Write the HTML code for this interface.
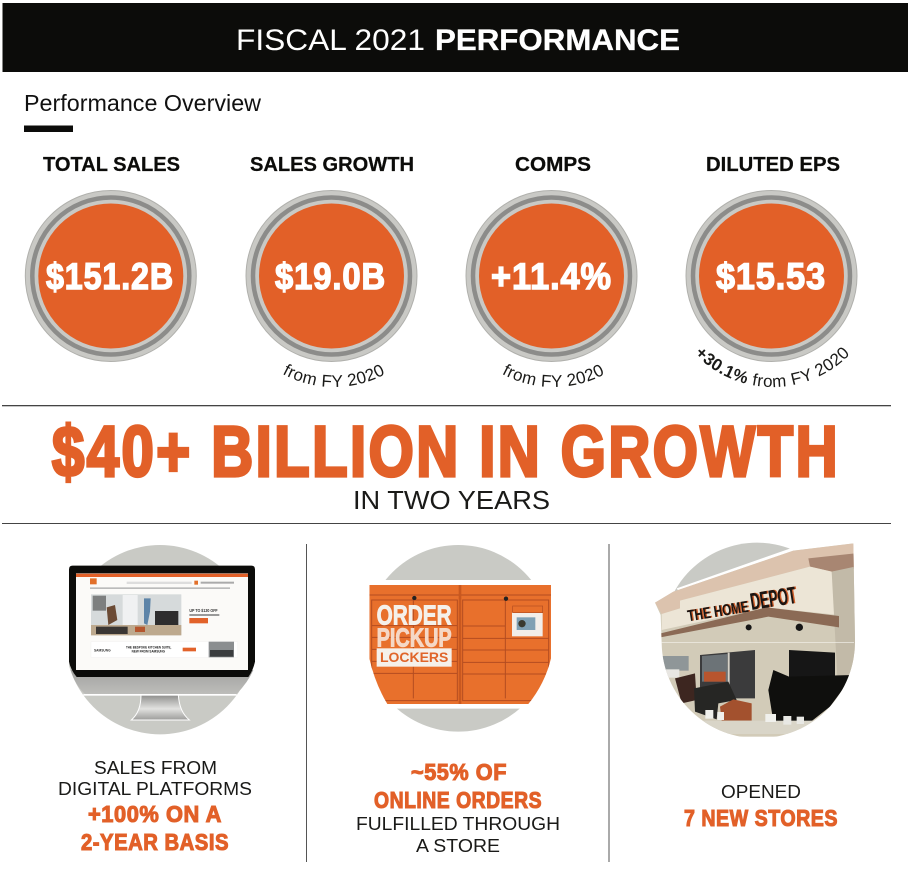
<!DOCTYPE html>
<html lang="en">
<head>
<meta charset="utf-8">
<title>Fiscal 2021 Performance</title>
<style>
html,body{margin:0;padding:0;background:#fff;}
svg{display:block;}
text{font-family:"Liberation Sans",Arial,sans-serif;}
.lab{font-weight:700;font-size:20px;fill:#0c0c0a;stroke:#0c0c0a;stroke-width:.25;}
.val{font-weight:700;font-size:37px;letter-spacing:1px;fill:#fff;stroke:#fff;stroke-width:1.400;}
.cap{font-size:18px;fill:#1a1a18;}
.hl{font-weight:700;font-size:23.5px;letter-spacing:.6px;fill:#e26028;stroke:#e26028;stroke-width:1.100;}
.arc{font-size:17px;letter-spacing:.45px;fill:#1a1a18;}
</style>
</head>
<body>
<svg xmlns="http://www.w3.org/2000/svg" width="908" height="874" viewBox="0 0 908 874">
<defs>
<path id="arc-b" d="M226 279 A108 108 0 0 0 442 279"/>
<path id="arc-c" d="M445.500 279 A108 108 0 0 0 661.500 279"/>
<path id="arc-d" d="M664.500 279 A108 108 0 0 0 880.500 279"/>
<linearGradient id="silver" x1="0" y1="0" x2="0" y2="1"><stop offset="0" stop-color="#a2a2a0"/><stop offset="1" stop-color="#bdbdba"/></linearGradient>
<linearGradient id="stand" x1="0" y1="0" x2="0" y2="1"><stop offset="0" stop-color="#8e8e8c"/><stop offset=".55" stop-color="#e2e2e0"/><stop offset="1" stop-color="#9c9c9a"/></linearGradient>
<clipPath id="monitor-backdrop-clip"><rect x="87" y="0" width="558" height="700"/></clipPath>
<clipPath id="locker-backdrop-clip"><rect x="0" y="0" width="660" height="150"/><rect x="0" y="536" width="660" height="100"/></clipPath>
<clipPath id="locker-clip"><path d="M58 165 L603 165 L603 385 Q585 460 535 522 L112 522 Q75 460 58 385 Z"/></clipPath>
<clipPath id="store-clip"><path d="M45 218 L100 185 L460 62 L640 40 L645 330 A290 290 0 0 1 65 340 L62 255 Z"/></clipPath>
</defs>
<rect width="908" height="874" fill="#fff"/>
<rect x="2.500" y="3" width="905.500" height="69" fill="#0c0c0a"/>
<text x="236" y="50" font-size="30" fill="#fff" textLength="189" lengthAdjust="spacingAndGlyphs">FISCAL 2021</text>
<text x="435" y="50" font-size="30" font-weight="700" fill="#fff" stroke="#fff" stroke-width=".3" textLength="245" lengthAdjust="spacingAndGlyphs">PERFORMANCE</text>
<text x="24" y="111" font-size="23" fill="#111" textLength="237" lengthAdjust="spacingAndGlyphs">Performance Overview</text>
<rect x="24" y="125.500" width="49" height="6.500" fill="#0c0c0a"/>

<text class="lab" x="43" y="171" textLength="137" lengthAdjust="spacingAndGlyphs">TOTAL SALES</text>
<text class="lab" x="250" y="171" textLength="164" lengthAdjust="spacingAndGlyphs">SALES GROWTH</text>
<text class="lab" x="515" y="171" textLength="76" lengthAdjust="spacingAndGlyphs">COMPS</text>
<text class="lab" x="706" y="171" textLength="134" lengthAdjust="spacingAndGlyphs">DILUTED EPS</text>

<g>
<circle cx="110.800" cy="276" r="85.500" fill="#c9c9c5" stroke="#b0b0ac" stroke-width="1"/><circle cx="110.800" cy="276" r="78.500" fill="none" stroke="#8c8c8a" stroke-width="4.500"/><circle cx="110.800" cy="276" r="72.500" fill="#e26028"/>
<text class="val" x="46" y="289" textLength="128" lengthAdjust="spacingAndGlyphs">$151.2B</text>
</g>
<g>
<circle cx="331.500" cy="276" r="85.500" fill="#c9c9c5" stroke="#b0b0ac" stroke-width="1"/><circle cx="331.500" cy="276" r="78.500" fill="none" stroke="#8c8c8a" stroke-width="4.500"/><circle cx="331.500" cy="276" r="72.500" fill="#e26028"/>
<text class="val" x="275" y="289" textLength="111" lengthAdjust="spacingAndGlyphs">$19.0B</text>
</g>
<g>
<circle cx="551.500" cy="276" r="85.500" fill="#c9c9c5" stroke="#b0b0ac" stroke-width="1"/><circle cx="551.500" cy="276" r="78.500" fill="none" stroke="#8c8c8a" stroke-width="4.500"/><circle cx="551.500" cy="276" r="72.500" fill="#e26028"/>
<text class="val" x="491" y="289" textLength="121" lengthAdjust="spacingAndGlyphs">+11.4%</text>
</g>
<g>
<circle cx="771.500" cy="276" r="85.500" fill="#c9c9c5" stroke="#b0b0ac" stroke-width="1"/><circle cx="771.500" cy="276" r="78.500" fill="none" stroke="#8c8c8a" stroke-width="4.500"/><circle cx="771.500" cy="276" r="72.500" fill="#e26028"/>
<text class="val" x="716" y="289" textLength="110" lengthAdjust="spacingAndGlyphs">$15.53</text>
</g>

<text class="arc" text-anchor="middle"><textPath href="#arc-b" startOffset="50%">from FY 2020</textPath></text>
<text class="arc" text-anchor="middle"><textPath href="#arc-c" startOffset="50%">from FY 2020</textPath></text>
<text class="arc" text-anchor="middle" letter-spacing=".65"><textPath href="#arc-d" startOffset="50%"><tspan font-weight="700">+30.1%</tspan> from FY 2020</textPath></text>

<rect x="2" y="405" width="889" height="1.300" fill="#444"/>
<text x="52" y="476" font-size="71" font-weight="700" letter-spacing="3" fill="#e26028" stroke="#e26028" stroke-width="3.200" textLength="788" lengthAdjust="spacingAndGlyphs">$40+ BILLION IN GROWTH</text>
<text x="353" y="509" font-size="26" fill="#1a1a18" textLength="197" lengthAdjust="spacingAndGlyphs">IN TWO YEARS</text>
<rect x="2" y="523" width="889" height="1" fill="#444"/>
<rect x="306" y="544" width="1" height="318" fill="#555"/>
<rect x="608.500" y="544" width="1" height="318" fill="#555"/>

<!-- Monitor -->
<g transform="translate(40 530) scale(.33333)">
<circle cx="360" cy="329" r="284" fill="#c9cac5" clip-path="url(#monitor-backdrop-clip)"/>
<path d="M92 420 Q105 465 135 492 L590 492 Q625 455 640 420 Z" fill="url(#silver)"/>
<path d="M87 118 Q87 107 98 107 L634 107 Q645 107 645 118 L645 395 Q640 420 625 441 L110 441 Q92 420 87 395 Z" fill="#0c0c0a"/>
<rect x="108" y="130" width="516" height="290" fill="#fbfaf8"/>
<rect x="108" y="131" width="516" height="10" fill="#e26028"/>
<rect x="150" y="145" width="20" height="18" fill="#e2702a"/>
<rect x="260" y="155" width="195" height="7" fill="#ddd"/>
<rect x="463" y="152" width="11" height="12" fill="#e2702a"/>
<rect x="482" y="155" width="100" height="6" fill="#aaa"/>
<rect x="150" y="172" width="420" height="5" fill="#bbb"/>
<rect x="153" y="193" width="271" height="123" fill="#d6dadb"/>
<rect x="158" y="197" width="40" height="45" fill="#7d7f7f"/>
<rect x="248" y="195" width="45" height="95" fill="#f0f1f2"/>
<path d="M200 232 L225 225 L232 270 L205 285 Z" fill="#6b4a34"/>
<path d="M312 205 L332 205 L330 245 L322 285 L312 280 Z" fill="#5d84a8"/>
<rect x="345" y="243" width="70" height="65" fill="#2e2d2e"/>
<rect x="153" y="285" width="271" height="31" fill="#bda98e"/>
<rect x="168" y="290" width="95" height="22" fill="#3a3633"/>
<rect x="285" y="290" width="30" height="16" fill="#b5562e"/>
<text x="448" y="246" font-size="13" font-weight="700" fill="#333" textLength="85" lengthAdjust="spacingAndGlyphs">UP TO $130 OFF</text>
<rect x="448" y="252" width="90" height="6" fill="#999"/>
<rect x="448" y="264" width="56" height="16" fill="#e2622a"/>
<rect x="153" y="335" width="440" height="47" fill="#fff" stroke="#eee" stroke-width="1"/>
<text x="162" y="364" font-size="11" font-weight="700" fill="#333" textLength="50" lengthAdjust="spacingAndGlyphs">SAMSUNG</text>
<text x="258" y="356" font-size="11" font-weight="700" fill="#222" textLength="136" lengthAdjust="spacingAndGlyphs">THE BESPOKE KITCHEN SUITE,</text>
<text x="275" y="368" font-size="11" font-weight="700" fill="#222" textLength="100" lengthAdjust="spacingAndGlyphs">NEW FROM SAMSUNG</text>
<rect x="428" y="353" width="40" height="11" fill="#e2622a"/>
<rect x="506" y="335" width="76" height="47" fill="#8b8e90"/>
<rect x="510" y="360" width="70" height="20" fill="#3b3d3f"/>
<path d="M303 495 L415 495 Q418 545 448 570 L274 570 Q303 545 303 495 Z" fill="url(#stand)" stroke="#fff" stroke-width="3"/>
<rect x="130" y="492" width="460" height="5" fill="#fff"/>
</g>

<!-- Locker -->
<g transform="translate(350 530) scale(.33333)">
<circle cx="325" cy="325" r="280" fill="#c9cac5" clip-path="url(#locker-backdrop-clip)"/>
<g clip-path="url(#locker-clip)">
<rect x="58" y="165" width="545" height="357" fill="#e8702c"/>
<g fill="none" stroke="#b34c20" stroke-width="3">
<path d="M65 210 H322 V512 H65 Z M338 210 H596 V512 H338 Z M58 195 H603 M190 210 V505 M466 210 V505 M65 287 H322 M65 322 H322 M65 358 H322 M65 394 H322 M65 430 H322 M338 288 H466 M338 325 H596 M338 360 H596 M338 397 H596 M338 432 H596"/>
</g>
<rect x="326" y="165" width="8" height="357" fill="#c9581f"/>
</g>
<circle cx="193" cy="204" r="6.500" fill="#222"/>
<circle cx="468" cy="206" r="6.500" fill="#222"/>
<text x="80" y="284" font-size="84" font-weight="700" fill="#f5f0ea" stroke="#f5f0ea" stroke-width="3" textLength="225" lengthAdjust="spacingAndGlyphs">ORDER</text>
<text x="80" y="350" font-size="78" font-weight="700" fill="#f5d8c6" stroke="#f5d8c6" stroke-width="3" textLength="225" lengthAdjust="spacingAndGlyphs">PICKUP</text>
<rect x="80" y="355" width="225" height="55" fill="#f5f0ea"/>
<text x="90" y="396" font-size="42" font-weight="700" fill="#e0652a" textLength="205" lengthAdjust="spacingAndGlyphs">LOCKERS</text>
<rect x="486" y="247" width="92" height="72" fill="#f2eeea"/>
<rect x="488" y="228" width="90" height="20" fill="#e8702c" stroke="#b34c20" stroke-width="2"/>
<rect x="500" y="262" width="56" height="38" fill="#7fa0b4"/>
<circle cx="516" cy="281" r="11" fill="#3a3a30"/>
</g>

<!-- Store -->
<g transform="translate(640 530) scale(.33333)">
<circle cx="351" cy="321" r="283" fill="#c9cac5"/>
<path d="M110 175 L460 52 L480 58 L120 190 Z" fill="#fff"/>
<g clip-path="url(#store-clip)">
<rect x="40" y="30" width="610" height="590" fill="#d2cbb8"/>
<path d="M45 218 L100 185 L460 62 L640 40 L645 115 L575 125 L510 110 L120 212 L120 235 L65 252 Z" fill="#dcc3ae"/>
<path d="M505 85 L645 70 L645 115 L575 125 L510 110 Z" fill="#a88672"/>
<path d="M65 252 L120 235 L120 212 L510 110 L575 125 L595 255 L380 232 L65 300 Z" fill="#ece5d6"/>
<path d="M575 125 L645 110 L645 440 L592 440 Z" fill="#c2baa8"/>
<path d="M62 310 L380 232 L597 258 L597 292 L385 260 L62 322 Z" fill="#8b6a55"/>
<rect x="62" y="336" width="580" height="2" fill="#f2f0ea"/>
<rect x="68" y="378" width="78" height="44" fill="#8f9698"/>
<rect x="68" y="418" width="50" height="25" fill="#e8e6e2"/>
<path d="M180 375 L345 360 V505 H180 Z" fill="#3b3b3c"/>
<path d="M186 378 L262 372 V455 H186 Z" fill="#6c7377"/>
<rect x="192" y="425" width="65" height="30" fill="#b8552e"/>
<rect x="263" y="368" width="6" height="137" fill="#d6d2c8"/>
<path d="M447 360 L585 368 V480 H447 Z" fill="#161616"/>
<path d="M385 480 L400 420 L447 440 L640 435 L570 530 L500 585 L400 575 Z" fill="#0f0f0d"/>
<path d="M105 445 L165 430 L170 510 L125 520 Z" fill="#3d2620"/>
<path d="M162 475 L265 455 L290 510 L235 520 L230 568 L165 545 Z" fill="#262624"/>
<path d="M240 530 L280 508 L335 520 L335 572 L245 572 Z" fill="#a3512e"/>
<rect x="100" y="572" width="430" height="40" fill="#d9d5c8"/>
<rect x="196" y="540" width="24" height="26" fill="#f0f0ec"/>
<rect x="232" y="546" width="20" height="24" fill="#f0f0ec"/>
<rect x="376" y="552" width="32" height="24" fill="#f0f0ec"/>
<rect x="430" y="558" width="24" height="26" fill="#e8e8e4"/>
<rect x="470" y="560" width="22" height="22" fill="#e8e8e4"/>
</g>
<circle cx="326" cy="292" r="9" fill="#161616"/>
<circle cx="478" cy="292" r="11" fill="#161616"/>
<text transform="rotate(-9 145 274)" x="149" y="274" font-size="48" font-weight="700" fill="#d2602c" textLength="185" lengthAdjust="spacingAndGlyphs">THE HOME</text>
<text transform="rotate(-9 145 274)" x="145" y="274" font-size="48" font-weight="700" fill="#1b1512" textLength="185" lengthAdjust="spacingAndGlyphs">THE HOME</text>
<text transform="rotate(-9 335 240)" x="339" y="240" font-size="72" font-weight="700" fill="#d2602c" textLength="138" lengthAdjust="spacingAndGlyphs">DEPOT</text>
<text transform="rotate(-9 335 240)" x="335" y="240" font-size="72" font-weight="700" fill="#1b1512" textLength="138" lengthAdjust="spacingAndGlyphs">DEPOT</text>
</g>

<!-- Column captions -->
<text class="cap" x="94" y="774" textLength="123" lengthAdjust="spacingAndGlyphs">SALES FROM</text>
<text class="cap" x="58" y="795" textLength="194" lengthAdjust="spacingAndGlyphs">DIGITAL PLATFORMS</text>
<text class="hl" x="88" y="822" textLength="134" lengthAdjust="spacingAndGlyphs">+100% ON A</text>
<text class="hl" x="81" y="850" textLength="148" lengthAdjust="spacingAndGlyphs">2-YEAR BASIS</text>

<text class="hl" x="411" y="780" textLength="96" lengthAdjust="spacingAndGlyphs">~55% OF</text>
<text class="hl" x="374" y="808" textLength="168" lengthAdjust="spacingAndGlyphs">ONLINE ORDERS</text>
<text class="cap" x="356" y="830" textLength="204" lengthAdjust="spacingAndGlyphs">FULFILLED THROUGH</text>
<text class="cap" x="416" y="852" textLength="84" lengthAdjust="spacingAndGlyphs">A STORE</text>

<text class="cap" x="721" y="798" textLength="80" lengthAdjust="spacingAndGlyphs">OPENED</text>
<text class="hl" x="684" y="826" textLength="154" lengthAdjust="spacingAndGlyphs">7 NEW STORES</text>
</svg>
</body>
</html>
